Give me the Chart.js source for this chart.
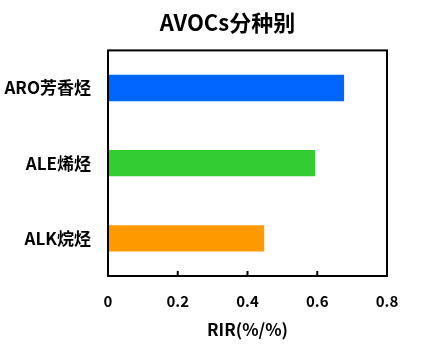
<!DOCTYPE html>
<html>
<head>
<meta charset="utf-8">
<script src="https://cdn.jsdelivr.net/npm/chart.js@4"></script>
<style>
  html, body { margin: 0; padding: 0; background: #fff; }
  #wrap { width: 438px; height: 348px; }
</style>
</head>
<body>
<div id="wrap"><canvas id="c" width="438" height="348"></canvas></div>
<script>
// ======= DATA =======
const categories = ["ARO芳香烃", "ALE烯烃", "ALK烷烃"];
const rirValues = [0.677, 0.594, 0.448];
const barColors = ["#0066FF", "#33CC33", "#FF9900"];
const xTicks = [0, 0.2, 0.4, 0.6, 0.8];

const FONT = "'Noto Sans CJK SC', 'Noto Sans', sans-serif";

// frame round the plot + inner ticks on the bottom axis
const framePlugin = {
  id: "frame",
  afterLayout(chart){
    // nudge the title right so it sits where the original does
    const t = chart.titleBlock;
    if(t){ t.left += 34; t.right += 34; }
  },
  afterDraw(chart){
    const {ctx, chartArea: a, scales} = chart;
    ctx.save();
    ctx.strokeStyle = "#000";
    ctx.lineWidth = 2;
    ctx.strokeRect(a.left, a.top, a.right - a.left, a.bottom - a.top);
    ctx.beginPath();
    xTicks.slice(1, -1).forEach(v => {
      const x = scales.x.getPixelForValue(v);
      ctx.moveTo(x, a.bottom);
      ctx.lineTo(x, a.bottom - 5);
    });
    ctx.stroke();
    ctx.restore();
  }
};

new Chart(document.getElementById("c"), {
  type: "bar",
  data: {
    labels: categories,
    datasets: [{ data: rirValues, backgroundColor: barColors, barPercentage: 0.35, categoryPercentage: 1 }]
  },
  options: {
    responsive: false,
    animation: false,
    indexAxis: "y",
    layout: { padding: { left: 0, right: 51, top: 0, bottom: 0 } },
    plugins: {
      legend: { display: false },
      tooltip: { enabled: false },
      title: {
        display: true,
        text: "AVOCs分种别",
        color: "#000",
        font: { family: FONT, size: 22, weight: "bold" },
        padding: { top: 9, bottom: 15 }
      }
    },
    scales: {
      x: {
        min: 0, max: 0.8,
        afterBuildTicks: s => { s.ticks = xTicks.map(v => ({value: v})); },
        afterFit: s => { s.height = 72; },
        grid: { display: false, drawTicks: false },
        border: { display: false },
        ticks: {
          color: "#000",
          padding: 16,
          font: { family: FONT, size: 15, weight: "bold" },
          callback: v => String(v)
        },
        title: {
          display: true,
          text: "RIR(%/%)",
          color: "#000",
          font: { family: FONT, size: 17, weight: "bold" },
          padding: { top: 2, bottom: 8 }
        }
      },
      y: {
        afterFit: s => { s.width = 108; },
        grid: { display: false, drawTicks: false },
        border: { display: false },
        ticks: {
          color: "#000",
          padding: 17,
          font: { family: FONT, size: 17, weight: "bold" }
        }
      }
    }
  },
  plugins: [framePlugin]
});
</script>
</body>
</html>
